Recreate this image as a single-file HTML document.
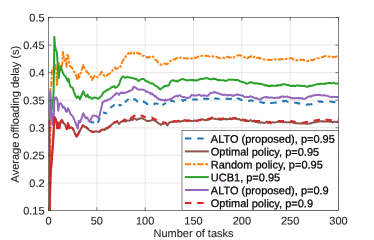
<!DOCTYPE html>
<html><head><meta charset="utf-8"><style>
html,body{margin:0;padding:0;background:#fff;}
body{width:374px;height:240px;overflow:hidden;}
svg{display:block;}
</style></head><body>
<svg width="374" height="240" viewBox="0 0 374 240"><defs><clipPath id="cp"><rect x="48.5" y="17.5" width="290" height="193"/></clipPath></defs><rect width="374" height="240" fill="#fff"/><path d="M96.83 17.5V210.5M145.17 17.5V210.5M193.50 17.5V210.5M241.83 17.5V210.5M290.17 17.5V210.5M48.5 182.93H338.5M48.5 155.36H338.5M48.5 127.79H338.5M48.5 100.21H338.5M48.5 72.64H338.5M48.5 45.07H338.5" stroke="#d6d6d6" stroke-width="0.6" fill="none"/><g clip-path="url(#cp)" fill="none" stroke-width="2.0" stroke-linejoin="round"><path d="M90.40 121.60 L92.00 122.50 L94.10 122.30M97.90 122.90 L99.75 117.90M102.90 112.46 L103.60 112.53 L104.57 112.89 L105.53 112.86 L106.50 113.51 L106.60 113.27M110.30 107.72 L110.37 107.64 L111.33 107.08 L112.30 106.45 L113.27 105.73 L114.23 104.97 L114.70 105.10M118.40 104.65 L119.07 105.00 L120.03 105.43 L121.00 104.93 L121.40 104.44M125.00 102.49 L125.83 101.47 L126.80 100.59 L127.77 99.73 L128.70 99.02M133.20 99.55 L133.57 99.51 L134.53 99.09 L135.50 99.92 L136.47 100.13 L137.43 101.59 L138.00 101.30M142.90 101.25 L143.23 101.44 L144.20 102.10 L145.17 102.50 L146.13 102.97 L147.10 104.04 L148.07 104.34 L148.20 104.33M153.60 104.63 L153.87 104.53 L154.83 103.40 L155.80 103.51 L156.77 103.59 L157.73 103.90 L158.40 104.00M162.30 105.01 L162.57 104.95 L163.53 104.19 L164.50 103.88 L165.47 103.19 L166.00 102.78M169.80 100.55 L170.30 100.44 L171.27 100.77 L172.23 101.11 L173.20 101.02 L174.17 101.63 L174.60 101.25M181.50 100.35 L181.90 100.13 L182.87 100.89 L183.83 100.11 L184.80 100.03 L185.77 100.21 L186.30 100.28M192.20 99.59 L192.53 99.56 L193.50 99.46 L194.47 99.32 L195.43 99.48 L196.40 99.36 L197.37 99.72 L197.70 99.74M203.10 98.85 L203.17 98.84 L204.13 98.75 L205.10 98.64 L206.07 98.58 L207.03 98.97 L208.00 98.77 L208.97 98.70 L209.00 98.73M214.30 98.27 L214.77 98.51 L215.73 98.31 L216.70 98.43 L217.67 98.75 L218.63 98.84 L219.60 98.75 L219.70 98.74M225.60 98.73 L226.37 98.71 L227.33 98.86 L228.30 98.75 L229.27 99.16 L230.23 98.75 L231.20 98.76 L232.00 98.92M237.00 98.01 L237.97 98.68 L238.93 98.60 L239.90 99.25 L240.87 99.74 L241.83 100.23 L242.30 100.54M248.20 101.14 L248.60 100.93 L249.57 100.95 L250.53 100.20 L251.50 100.36 L252.47 100.68 L253.43 101.31 L253.50 101.36M259.40 101.88 L260.20 102.01 L261.17 102.35 L262.13 102.39 L263.10 102.97 L264.07 102.79 L264.80 103.04M270.30 102.71 L270.83 102.95 L271.80 102.88 L272.77 102.80 L273.73 102.66 L274.70 102.66 L275.67 102.42 L276.63 102.54 L276.70 102.50M282.00 101.33 L282.43 101.25 L283.40 101.05 L284.37 101.37 L285.33 100.86 L286.30 101.08 L287.27 101.63 L288.23 101.89 L288.50 101.90M294.30 102.54 L295.00 102.68 L295.97 102.74 L296.93 102.64 L297.90 103.47 L298.87 103.28 L299.83 103.47 L300.20 103.49M305.90 104.62 L306.60 104.77 L307.57 104.53 L308.53 104.33 L309.50 104.48 L310.47 104.36 L311.43 104.27 L312.30 103.85M317.60 101.59 L318.20 101.36 L319.17 101.41 L320.13 101.98 L321.10 101.38 L322.07 101.95 L323.03 102.07 L323.50 102.13M329.40 101.21 L329.80 101.35 L330.77 101.63 L331.73 101.77 L332.70 101.86 L333.67 102.36 L334.63 101.97 L335.30 102.29" stroke="#1f77b4"/><polyline points="49.70,212.00 50.50,180.00 52.30,150.00 53.40,135.00 54.00,125.00 54.40,117.00 55.60,119.00 56.40,121.70 57.25,128.30 58.00,122.50 59.30,128.30 60.60,121.70 61.80,120.00 63.00,122.50 64.75,124.20 66.80,129.20 68.00,123.30 69.30,128.30 71.00,127.50 72.70,128.30 74.30,131.70 76.40,136.70 77.70,135.30 79.30,132.00 81.00,128.70 82.80,125.40 84.50,126.70 86.60,127.50 89.30,130.30 92.70,132.00 96.00,131.20 99.30,132.00 100.70,130.47 101.67,129.77 102.63,129.83 103.60,129.45 104.57,130.17 105.53,128.35 106.50,128.74 107.47,127.76 108.43,127.59 109.40,126.23 110.37,125.92 111.33,125.00 112.30,124.08 113.27,123.64 114.23,122.41 115.20,122.25 116.17,122.13 117.13,122.13 118.10,122.58 119.07,124.04 120.03,122.66 121.00,121.81 121.97,121.68 122.93,121.29 123.90,121.18 124.87,120.96 125.83,121.53 126.80,120.61 127.77,120.42 128.73,120.41 129.70,120.70 130.67,119.81 131.63,119.45 132.60,120.12 133.57,118.52 134.53,118.58 135.50,118.91 136.47,119.80 137.43,119.57 138.40,118.70 139.37,119.00 140.33,118.28 141.30,118.21 142.27,118.36 143.23,118.76 144.20,119.35 145.17,119.70 146.13,120.57 147.10,121.00 148.07,120.92 149.03,120.73 150.00,120.91 150.97,120.62 151.93,119.94 152.90,119.87 153.87,120.21 154.83,120.52 155.80,121.08 156.77,121.87 157.73,122.59 158.70,123.42 159.67,123.69 160.63,124.94 161.60,124.23 162.57,123.63 163.53,123.79 164.50,123.26 165.47,123.36 166.43,124.39 167.40,125.46 168.37,123.62 169.33,122.24 170.30,122.45 171.27,121.66 172.23,121.85 173.20,122.06 174.17,121.22 175.13,121.42 176.10,121.65 177.07,121.47 178.03,121.35 179.00,120.71 179.97,121.81 180.93,121.34 181.90,121.29 182.87,121.11 183.83,120.43 184.80,120.39 185.77,120.39 186.73,121.19 187.70,120.49 188.67,120.64 189.63,120.65 190.60,120.97 191.57,121.07 192.53,121.12 193.50,120.85 194.47,120.31 195.43,120.99 196.40,120.86 197.37,120.93 198.33,120.40 199.30,120.07 200.27,120.12 201.23,119.43 202.20,119.55 203.17,119.55 204.13,119.86 205.10,120.26 206.07,119.89 207.03,119.93 208.00,119.67 208.97,119.53 209.93,119.15 210.90,118.99 211.87,118.27 212.83,118.41 213.80,118.39 214.77,118.90 215.73,118.86 216.70,119.11 217.67,119.36 218.63,119.07 219.60,119.45 220.57,119.66 221.53,119.20 222.50,119.45 223.47,119.16 224.43,118.83 225.40,119.23 226.37,119.01 227.33,119.23 228.30,119.00 229.27,119.07 230.23,118.39 231.20,119.25 232.17,119.01 233.13,118.62 234.10,118.49 235.07,118.70 236.03,118.85 237.00,119.03 237.97,119.27 238.93,118.98 239.90,119.42 240.87,120.24 241.83,120.26 242.80,120.14 243.77,120.57 244.73,120.71 245.70,120.92 246.67,121.29 247.63,120.85 248.60,121.02 249.57,120.69 250.53,120.18 251.50,120.55 252.47,121.45 253.43,121.00 254.40,121.17 255.37,121.92 256.33,121.88 257.30,122.04 258.27,122.55 259.23,122.01 260.20,122.67 261.17,122.52 262.13,122.46 263.10,122.56 264.07,122.95 265.03,122.63 266.00,122.22 266.97,122.36 267.93,122.94 268.90,122.83 269.87,122.36 270.83,123.13 271.80,122.52 272.77,122.24 273.73,122.32 274.70,122.41 275.67,122.41 276.63,122.14 277.60,121.72 278.57,121.74 279.53,121.59 280.50,121.94 281.47,121.89 282.43,122.18 283.40,121.96 284.37,122.23 285.33,122.26 286.30,122.30 287.27,122.31 288.23,122.29 289.20,122.20 290.17,122.53 291.13,122.37 292.10,122.04 293.07,122.63 294.03,122.78 295.00,123.22 295.97,123.07 296.93,123.26 297.90,123.25 298.87,123.43 299.83,123.50 300.80,123.44 301.77,123.35 302.73,123.52 303.70,123.51 304.67,123.63 305.63,123.47 306.60,123.80 307.57,123.64 308.53,123.59 309.50,123.51 310.47,123.63 311.43,123.10 312.40,122.60 313.37,122.36 314.33,122.41 315.30,122.29 316.27,122.10 317.23,121.69 318.20,121.65 319.17,121.43 320.13,121.35 321.10,121.32 322.07,121.54 323.03,121.23 324.00,121.40 324.97,121.67 325.93,121.32 326.90,121.55 327.87,121.18 328.83,121.48 329.80,121.75 330.77,121.57 331.73,121.75 332.70,122.41 333.67,121.76 334.63,121.76 335.60,121.78 336.57,121.91 337.53,121.89 338.50,122.10" stroke="#8c564b"/><polyline points="49.60,212.00 50.20,150.00 50.40,88.00 51.30,86.00 52.10,69.00 53.30,68.00 54.30,66.00 55.50,65.00 56.50,73.00 57.00,86.00 58.30,62.00 59.30,67.50 60.30,70.00 61.20,68.00 62.30,64.00 63.00,52.00 63.80,57.00 64.60,61.00 65.50,59.00 66.50,67.00 67.30,55.00 68.00,55.50 68.60,59.00 69.30,64.00 70.20,66.70 71.80,67.50 72.70,68.75 73.50,70.50 74.30,72.40 75.40,73.90 76.80,77.20 77.50,80.00 78.30,74.20 79.30,77.50 81.70,70.00 83.30,65.00 85.00,69.20 86.70,71.70 88.30,73.30 91.00,76.70 92.00,80.00 92.70,78.30 95.00,75.80 97.70,77.50 100.70,73.57 101.67,71.84 102.63,73.64 103.60,74.97 104.57,75.91 105.53,75.12 106.50,75.63 107.47,74.88 108.43,74.14 109.40,73.60 110.37,73.07 111.33,72.50 112.30,70.60 113.27,69.34 114.23,68.71 115.20,67.47 116.17,68.93 117.13,68.36 118.10,68.23 119.07,68.49 120.03,66.94 121.00,65.05 121.97,62.26 122.93,60.90 123.90,59.00 124.87,58.66 125.83,55.87 126.80,54.63 127.77,53.74 128.73,53.37 129.70,53.22 130.67,53.46 131.63,52.46 132.60,53.91 133.57,53.78 134.53,52.85 135.50,52.62 136.47,52.27 137.43,53.28 138.40,53.02 139.37,54.09 140.33,53.83 141.30,54.16 142.27,55.67 143.23,55.66 144.20,55.95 145.17,56.56 146.13,56.73 147.10,57.51 148.07,57.78 149.03,56.64 150.00,56.99 150.97,56.12 151.93,56.40 152.90,56.63 153.87,58.59 154.83,59.49 155.80,60.01 156.77,60.58 157.73,61.87 158.70,63.05 159.67,63.75 160.63,64.49 161.60,64.90 162.57,64.22 163.53,63.73 164.50,63.68 165.47,63.65 166.43,64.24 167.40,63.68 168.37,63.24 169.33,61.75 170.30,60.83 171.27,60.49 172.23,59.74 173.20,59.42 174.17,59.41 175.13,59.41 176.10,58.19 177.07,58.27 178.03,57.76 179.00,57.47 179.97,57.87 180.93,57.46 181.90,58.13 182.87,57.99 183.83,58.16 184.80,58.17 185.77,58.18 186.73,58.13 187.70,58.38 188.67,58.81 189.63,58.54 190.60,58.49 191.57,58.41 192.53,58.15 193.50,58.43 194.47,58.55 195.43,57.40 196.40,57.58 197.37,57.13 198.33,56.45 199.30,56.08 200.27,56.01 201.23,56.07 202.20,55.69 203.17,55.74 204.13,55.56 205.10,55.82 206.07,55.81 207.03,55.98 208.00,55.94 208.97,56.37 209.93,56.64 210.90,56.25 211.87,56.35 212.83,56.44 213.80,56.50 214.77,56.92 215.73,56.95 216.70,56.86 217.67,57.19 218.63,57.90 219.60,58.14 220.57,58.25 221.53,58.05 222.50,58.04 223.47,57.57 224.43,57.99 225.40,57.16 226.37,57.33 227.33,56.82 228.30,57.08 229.27,57.42 230.23,57.44 231.20,57.57 232.17,58.13 233.13,57.82 234.10,57.26 235.07,56.59 236.03,56.02 237.00,55.73 237.97,55.35 238.93,55.09 239.90,55.39 240.87,55.49 241.83,55.68 242.80,56.18 243.77,57.08 244.73,57.40 245.70,58.07 246.67,58.74 247.63,58.08 248.60,57.21 249.57,56.92 250.53,56.72 251.50,55.79 252.47,56.27 253.43,57.29 254.40,56.70 255.37,57.37 256.33,57.82 257.30,57.72 258.27,58.16 259.23,57.74 260.20,58.24 261.17,58.97 262.13,59.35 263.10,59.37 264.07,59.59 265.03,59.37 266.00,59.25 266.97,59.39 267.93,59.76 268.90,59.90 269.87,59.84 270.83,60.11 271.80,60.08 272.77,60.02 273.73,60.05 274.70,59.43 275.67,59.41 276.63,59.10 277.60,59.48 278.57,59.31 279.53,59.65 280.50,59.53 281.47,59.12 282.43,58.97 283.40,59.30 284.37,59.14 285.33,58.99 286.30,58.54 287.27,58.63 288.23,58.34 289.20,58.38 290.17,58.37 291.13,58.11 292.10,58.28 293.07,59.23 294.03,59.61 295.00,59.80 295.97,60.28 296.93,60.23 297.90,60.49 298.87,60.03 299.83,59.96 300.80,59.83 301.77,59.98 302.73,59.64 303.70,60.22 304.67,60.23 305.63,60.23 306.60,60.79 307.57,60.87 308.53,61.06 309.50,60.95 310.47,60.63 311.43,59.91 312.40,60.26 313.37,59.84 314.33,59.32 315.30,58.87 316.27,58.79 317.23,58.16 318.20,58.27 319.17,57.90 320.13,57.40 321.10,57.40 322.07,57.11 323.03,57.11 324.00,56.69 324.97,56.01 325.93,56.05 326.90,56.55 327.87,56.64 328.83,56.59 329.80,56.57 330.77,56.91 331.73,56.77 332.70,56.86 333.67,57.17 334.63,57.05 335.60,56.68 336.57,56.43 337.53,56.44 338.50,56.65" stroke="#ff7f0e" stroke-dasharray="5.8,1.5,2.6,1.5"/><polyline points="49.50,116.00 50.40,112.00 51.40,110.00 52.30,107.00 53.50,95.00 54.00,70.00 54.30,36.70 55.00,46.00 55.80,50.00 56.70,51.30 57.30,58.00 58.10,70.00 58.60,78.00 59.75,70.00 60.90,66.20 61.90,69.80 63.00,73.20 64.30,75.50 65.50,76.50 66.80,79.00 67.70,81.30 68.50,78.80 69.30,82.20 70.20,86.00 71.00,87.25 72.70,87.70 73.90,91.80 75.20,95.20 76.70,97.90 78.30,96.25 80.00,99.20 81.70,95.00 83.30,91.25 85.00,95.40 86.25,96.70 87.50,94.60 88.75,97.50 90.00,97.10 91.70,98.75 93.30,97.90 95.00,97.50 96.70,97.90 98.30,98.75 100.70,96.55 101.67,95.65 102.63,93.89 103.60,92.37 104.57,91.55 105.53,91.41 106.50,90.39 107.47,89.61 108.43,89.64 109.40,88.98 110.37,88.48 111.33,87.27 112.30,87.12 113.27,86.63 114.23,85.98 115.20,87.70 116.17,87.48 117.13,86.89 118.10,85.50 119.07,84.67 120.03,81.56 121.00,78.80 121.97,77.35 122.93,76.31 123.90,77.06 124.87,77.83 125.83,77.53 126.80,77.14 127.77,76.71 128.73,77.36 129.70,77.38 130.67,77.73 131.63,77.80 132.60,78.31 133.57,78.18 134.53,78.56 135.50,79.05 136.47,78.85 137.43,80.17 138.40,80.86 139.37,80.72 140.33,79.46 141.30,79.30 142.27,78.90 143.23,79.10 144.20,79.22 145.17,80.54 146.13,80.79 147.10,81.78 148.07,81.61 149.03,82.23 150.00,83.10 150.97,83.55 151.93,83.26 152.90,83.75 153.87,84.62 154.83,85.41 155.80,85.84 156.77,86.46 157.73,86.78 158.70,88.02 159.67,88.96 160.63,89.32 161.60,88.26 162.57,87.54 163.53,87.07 164.50,85.94 165.47,86.04 166.43,85.53 167.40,85.76 168.37,85.73 169.33,84.18 170.30,82.10 171.27,80.85 172.23,80.43 173.20,80.35 174.17,80.57 175.13,81.13 176.10,80.63 177.07,81.65 178.03,81.16 179.00,80.26 179.97,80.27 180.93,79.68 181.90,78.86 182.87,79.17 183.83,79.28 184.80,79.71 185.77,80.00 186.73,80.45 187.70,80.24 188.67,80.29 189.63,80.31 190.60,79.67 191.57,80.35 192.53,79.86 193.50,80.47 194.47,80.32 195.43,80.49 196.40,80.18 197.37,80.38 198.33,79.85 199.30,79.29 200.27,79.14 201.23,78.78 202.20,78.91 203.17,78.64 204.13,78.82 205.10,78.20 206.07,78.33 207.03,78.11 208.00,78.40 208.97,79.01 209.93,79.13 210.90,79.25 211.87,79.25 212.83,79.10 213.80,78.40 214.77,79.15 215.73,78.90 216.70,79.59 217.67,80.27 218.63,79.95 219.60,80.09 220.57,80.34 221.53,80.30 222.50,80.31 223.47,80.15 224.43,80.72 225.40,80.82 226.37,80.70 227.33,80.47 228.30,79.93 229.27,79.45 230.23,79.54 231.20,79.84 232.17,79.86 233.13,79.70 234.10,79.74 235.07,80.00 236.03,79.98 237.00,80.02 237.97,80.09 238.93,80.62 239.90,81.32 240.87,81.64 241.83,81.64 242.80,82.25 243.77,82.34 244.73,82.75 245.70,83.39 246.67,83.69 247.63,83.43 248.60,83.00 249.57,82.41 250.53,82.45 251.50,82.33 252.47,82.50 253.43,83.13 254.40,83.72 255.37,83.33 256.33,83.11 257.30,83.53 258.27,83.90 259.23,83.48 260.20,84.03 261.17,83.86 262.13,84.42 263.10,84.57 264.07,84.79 265.03,85.48 266.00,85.24 266.97,85.32 267.93,86.01 268.90,85.57 269.87,86.27 270.83,85.79 271.80,85.58 272.77,85.80 273.73,85.83 274.70,85.84 275.67,85.76 276.63,85.91 277.60,85.04 278.57,85.27 279.53,85.20 280.50,85.50 281.47,84.54 282.43,84.66 283.40,84.26 284.37,84.14 285.33,84.49 286.30,84.67 287.27,85.13 288.23,84.93 289.20,85.35 290.17,85.77 291.13,85.95 292.10,85.73 293.07,86.04 294.03,85.61 295.00,86.13 295.97,85.64 296.93,85.44 297.90,85.37 298.87,85.61 299.83,85.94 300.80,85.69 301.77,85.78 302.73,86.09 303.70,85.90 304.67,85.85 305.63,86.51 306.60,86.41 307.57,86.87 308.53,86.34 309.50,85.70 310.47,86.09 311.43,85.79 312.40,85.77 313.37,85.24 314.33,84.88 315.30,84.73 316.27,84.39 317.23,84.33 318.20,83.89 319.17,84.13 320.13,83.71 321.10,83.64 322.07,83.84 323.03,83.89 324.00,83.50 324.97,84.05 325.93,83.32 326.90,83.40 327.87,83.22 328.83,83.05 329.80,83.03 330.77,83.36 331.73,83.22 332.70,83.21 333.67,82.84 334.63,83.14 335.60,83.63 336.57,83.54 337.53,83.41 338.50,83.57" stroke="#2ca02c"/><polyline points="49.50,124.00 50.30,91.00 52.50,125.00 53.75,116.00 54.50,97.50 55.50,99.00 56.25,97.30 57.50,100.70 58.30,110.70 59.20,104.00 60.80,103.20 61.70,104.80 62.90,107.75 63.75,106.50 64.60,107.75 65.80,110.70 66.70,112.00 67.90,108.20 69.20,110.70 70.40,114.00 72.25,115.70 73.50,117.75 75.30,122.50 77.00,126.70 77.80,128.75 78.70,120.80 79.90,122.50 81.60,118.30 83.25,113.30 84.50,115.80 85.75,118.30 87.40,117.50 88.70,120.80 89.90,121.70 91.60,117.50 93.25,115.40 94.90,115.80 96.60,116.25 98.25,117.90 99.50,115.80 100.70,110.27 101.67,106.77 102.63,101.88 103.60,101.96 104.57,100.99 105.53,100.60 106.50,101.08 107.47,99.98 108.43,99.42 109.40,99.23 110.37,98.90 111.33,97.81 112.30,97.31 113.27,95.99 114.23,95.43 115.20,94.44 116.17,93.15 117.13,93.19 118.10,93.81 119.07,94.82 120.03,93.42 121.00,92.48 121.97,92.93 122.93,92.75 123.90,93.05 124.87,92.85 125.83,92.72 126.80,91.95 127.77,91.87 128.73,91.10 129.70,91.28 130.67,90.38 131.63,90.12 132.60,89.35 133.57,86.71 134.53,87.21 135.50,87.51 136.47,88.22 137.43,89.36 138.40,89.53 139.37,89.83 140.33,89.58 141.30,89.57 142.27,89.66 143.23,89.63 144.20,90.12 145.17,90.56 146.13,91.77 147.10,91.46 148.07,92.19 149.03,92.73 150.00,92.75 150.97,94.27 151.93,93.37 152.90,94.56 153.87,95.20 154.83,96.54 155.80,96.21 156.77,97.81 157.73,98.03 158.70,98.93 159.67,99.23 160.63,99.90 161.60,99.69 162.57,100.06 163.53,100.26 164.50,100.74 165.47,99.61 166.43,100.52 167.40,100.19 168.37,99.63 169.33,99.51 170.30,98.90 171.27,99.05 172.23,98.21 173.20,97.52 174.17,96.93 175.13,96.35 176.10,96.14 177.07,95.81 178.03,96.44 179.00,95.38 179.97,95.21 180.93,96.38 181.90,96.63 182.87,97.01 183.83,97.09 184.80,97.34 185.77,97.65 186.73,97.96 187.70,97.74 188.67,97.90 189.63,97.56 190.60,96.23 191.57,94.89 192.53,95.46 193.50,95.39 194.47,95.38 195.43,95.48 196.40,95.62 197.37,95.11 198.33,94.83 199.30,94.83 200.27,95.26 201.23,95.89 202.20,95.66 203.17,95.27 204.13,95.64 205.10,95.35 206.07,95.66 207.03,95.94 208.00,95.56 208.97,94.60 209.93,93.66 210.90,92.80 211.87,92.86 212.83,92.66 213.80,92.07 214.77,92.27 215.73,92.55 216.70,92.72 217.67,93.05 218.63,93.50 219.60,93.75 220.57,94.17 221.53,94.16 222.50,94.87 223.47,95.03 224.43,94.83 225.40,94.65 226.37,95.27 227.33,95.50 228.30,94.99 229.27,94.96 230.23,94.93 231.20,95.44 232.17,95.32 233.13,95.98 234.10,95.38 235.07,95.23 236.03,94.73 237.00,94.75 237.97,94.56 238.93,94.82 239.90,95.03 240.87,95.35 241.83,95.43 242.80,95.76 243.77,96.55 244.73,96.97 245.70,96.80 246.67,96.83 247.63,96.88 248.60,96.95 249.57,96.68 250.53,96.15 251.50,96.72 252.47,96.99 253.43,97.37 254.40,98.03 255.37,98.17 256.33,98.05 257.30,98.65 258.27,99.29 259.23,99.55 260.20,99.27 261.17,99.06 262.13,98.02 263.10,97.82 264.07,97.25 265.03,97.24 266.00,96.98 266.97,97.49 267.93,97.31 268.90,97.62 269.87,97.63 270.83,97.55 271.80,97.48 272.77,97.66 273.73,98.11 274.70,97.73 275.67,97.88 276.63,97.74 277.60,97.43 278.57,97.87 279.53,97.25 280.50,97.56 281.47,96.56 282.43,96.42 283.40,97.02 284.37,96.86 285.33,96.69 286.30,96.83 287.27,96.53 288.23,96.94 289.20,97.15 290.17,97.61 291.13,98.14 292.10,98.08 293.07,98.23 294.03,98.10 295.00,98.18 295.97,98.21 296.93,98.04 297.90,98.27 298.87,97.90 299.83,98.56 300.80,98.05 301.77,98.57 302.73,98.31 303.70,98.92 304.67,98.72 305.63,98.30 306.60,97.87 307.57,97.09 308.53,96.67 309.50,96.27 310.47,96.73 311.43,96.11 312.40,95.76 313.37,95.50 314.33,95.55 315.30,94.65 316.27,95.05 317.23,94.92 318.20,95.11 319.17,94.63 320.13,94.92 321.10,95.17 322.07,95.38 323.03,95.48 324.00,95.07 324.97,95.39 325.93,95.65 326.90,95.69 327.87,95.97 328.83,96.63 329.80,96.73 330.77,96.86 331.73,97.24 332.70,96.80 333.67,97.11 334.63,97.00 335.60,96.99 336.57,97.10 337.53,97.04 338.50,97.05" stroke="#9467bd"/><path d="M49.50 120.00 L49.70 212.00 L50.30 176.00 L52.00 158.00 L53.30 140.00 L53.90 125.00 L54.40 117.00 L55.60 119.00 L56.40 121.70 L57.25 128.30 L57.30 127.91M58.20 123.39 L59.30 128.30 L59.80 125.76M60.20 123.73 L60.60 121.70 L61.80 120.00 L63.00 122.50 L63.70 123.18M66.00 127.25 L66.80 129.20 L68.00 123.30 L69.30 128.30 L69.50 128.21M70.70 127.64 L71.00 127.50 L72.70 128.30 L73.60 130.21M75.30 133.84 L76.40 136.20 L77.70 135.00 L79.30 131.50 L80.00 130.14M81.75 127.03 L82.80 125.40 L84.00 126.32M85.80 127.20 L86.60 127.50 L88.20 129.16M91.00 131.15 L92.70 132.00 L94.00 131.68M99.40 131.89 L100.70 130.47 L101.67 129.77 L102.63 129.83 L102.70 129.79M106.70 128.43 L107.47 127.70 L108.43 127.66 L109.40 126.45 L110.37 126.32 L110.70 125.96M113.40 123.43 L114.23 122.46 L115.20 122.24 L116.17 122.06 L117.13 121.28 L118.10 120.55M122.10 121.33 L122.93 120.66 L123.90 120.05 L124.87 119.41 L125.83 119.56 L126.10 119.31M130.10 118.89 L130.67 118.27 L131.63 117.53 L132.60 117.92 L133.57 116.05 L134.53 115.79 L135.50 115.51M140.60 115.81 L141.30 115.61 L142.27 115.83 L143.23 116.25 L144.20 116.77 L145.17 117.05 L145.60 117.43M151.50 117.64 L151.93 117.50 L152.90 118.11 L153.87 118.99 L154.83 119.11 L155.80 119.49 L156.70 120.04M162.20 121.75 L162.57 121.74 L163.53 122.49 L164.50 122.53 L165.47 122.68 L166.43 123.35 L167.20 123.60M172.40 121.68 L173.20 121.87 L174.17 121.04 L175.13 121.26 L176.10 121.50 L177.07 121.27 L178.03 120.98 L178.80 120.36M184.20 120.10 L184.80 120.15 L185.77 120.24 L186.73 121.08 L187.70 120.41 L188.67 120.59 L189.63 120.62 L190.00 120.71M196.00 120.73 L196.40 120.70 L197.37 120.79 L198.33 120.31 L199.30 120.04 L200.27 120.14 L201.23 119.51 L201.80 119.50M207.20 119.42 L208.00 119.05 L208.97 118.81 L209.93 118.38 L210.90 118.17 L211.87 117.41 L212.60 117.51M218.40 118.52 L218.63 118.43 L219.60 118.75 L220.57 118.96 L221.53 118.50 L222.50 118.75 L223.47 118.46 L224.30 118.18M230.20 118.22 L230.23 118.20 L231.20 119.04 L232.17 118.73 L233.13 118.21 L234.10 117.94 L235.07 118.02 L236.03 118.03 L236.60 118.04M242.10 119.53 L242.80 119.39 L243.77 119.72 L244.73 119.77 L245.70 120.04 L246.67 120.72 L247.63 120.58 L248.00 120.72M253.90 120.52 L254.40 120.51 L255.37 121.10 L256.33 120.93 L257.30 120.99 L258.27 121.40 L259.23 120.76 L259.80 121.09M266.20 121.42 L266.97 121.58 L267.93 122.20 L268.90 122.13 L269.87 121.70 L270.83 122.50 L271.60 122.01M278.10 121.11 L278.57 121.08 L279.53 120.88 L280.50 121.18 L281.47 121.07 L282.43 121.25 L283.40 120.93 L284.00 121.03M289.90 121.23 L290.17 121.34 L291.13 121.31 L292.10 121.07 L293.07 121.52 L294.03 121.54 L295.00 121.86 L295.80 121.63M302.20 122.56 L302.73 122.66 L303.70 122.46 L304.67 122.39 L305.63 122.04 L306.60 122.18 L307.57 121.83 L307.90 121.75M313.60 120.36 L314.33 120.45 L315.30 120.46 L316.27 120.35 L317.23 119.98 L318.20 119.98 L319.17 119.80 L320.00 119.75M325.40 119.78 L325.93 119.65 L326.90 120.03 L327.87 119.73 L328.83 119.99 L329.80 120.23 L330.77 120.01 L331.73 120.15 L331.80 120.19M337.70 119.84 L338.50 120.00" stroke="#d62728"/></g><path d="M48.50 210.5v-3M48.50 17.5v3M96.83 210.5v-3M96.83 17.5v3M145.17 210.5v-3M145.17 17.5v3M193.50 210.5v-3M193.50 17.5v3M241.83 210.5v-3M241.83 17.5v3M290.17 210.5v-3M290.17 17.5v3M338.50 210.5v-3M338.50 17.5v3M48.5 210.50h3M338.5 210.50h-3M48.5 182.93h3M338.5 182.93h-3M48.5 155.36h3M338.5 155.36h-3M48.5 127.79h3M338.5 127.79h-3M48.5 100.21h3M338.5 100.21h-3M48.5 72.64h3M338.5 72.64h-3M48.5 45.07h3M338.5 45.07h-3M48.5 17.50h3M338.5 17.50h-3" stroke="#2e2e2e" stroke-width="0.6" fill="none"/><rect x="48.5" y="17.5" width="290.0" height="193.0" fill="none" stroke="#2e2e2e" stroke-width="0.6"/><g font-family="Liberation Sans, Arial, sans-serif" font-size="11" fill="#262626" stroke="#262626" stroke-width="0.1"><text x="48.50" y="224.6" text-anchor="middle" transform="rotate(0.05 48.50 224.60)">0</text><text x="96.83" y="224.6" text-anchor="middle" transform="rotate(0.05 96.83 224.60)">50</text><text x="145.17" y="224.6" text-anchor="middle" transform="rotate(0.05 145.17 224.60)">100</text><text x="193.50" y="224.6" text-anchor="middle" transform="rotate(0.05 193.50 224.60)">150</text><text x="241.83" y="224.6" text-anchor="middle" transform="rotate(0.05 241.83 224.60)">200</text><text x="290.17" y="224.6" text-anchor="middle" transform="rotate(0.05 290.17 224.60)">250</text><text x="338.50" y="224.6" text-anchor="middle" transform="rotate(0.05 338.50 224.60)">300</text><text x="44.6" y="214.50" text-anchor="end" transform="rotate(0.05 44.60 214.50)">0.15</text><text x="44.6" y="186.93" text-anchor="end" transform="rotate(0.05 44.60 186.93)">0.2</text><text x="44.6" y="159.36" text-anchor="end" transform="rotate(0.05 44.60 159.36)">0.25</text><text x="44.6" y="131.79" text-anchor="end" transform="rotate(0.05 44.60 131.79)">0.3</text><text x="44.6" y="104.21" text-anchor="end" transform="rotate(0.05 44.60 104.21)">0.35</text><text x="44.6" y="76.64" text-anchor="end" transform="rotate(0.05 44.60 76.64)">0.4</text><text x="44.6" y="49.07" text-anchor="end" transform="rotate(0.05 44.60 49.07)">0.45</text><text x="44.6" y="21.50" text-anchor="end" transform="rotate(0.05 44.60 21.50)">0.5</text><text x="193.5" y="237.1" text-anchor="middle" transform="rotate(0.05 193.50 237.10)">Number of tasks</text><text transform="translate(18.8 114.2) rotate(-89.95)" text-anchor="middle">Average offloading delay (s)</text></g><rect x="182.0" y="130.5" width="156.5" height="80.0" fill="#fff" stroke="#2e2e2e" stroke-width="0.6"/><g fill="none" stroke-width="2.0"><path d="M184.9 138.5H208.8" stroke="#1f77b4" stroke-dasharray="6.5,5.8"/><path d="M184.9 151.4H208.8" stroke="#8c564b"/><path d="M184.9 164.3H208.8" stroke="#ff7f0e" stroke-dasharray="6.3,1.6,2.8,1.6"/><path d="M184.9 177.1H208.8" stroke="#2ca02c"/><path d="M184.9 190.0H208.8" stroke="#9467bd"/><path d="M184.9 202.9H208.8" stroke="#d62728" stroke-dasharray="6.5,5.8"/></g><g font-family="Liberation Sans, Arial, sans-serif" font-size="11" fill="#000" stroke="#000" stroke-width="0.25"><text x="210.8" y="142.70" transform="rotate(0.05 210.80 142.70)">ALTO (proposed), p=0.95</text><text x="210.8" y="155.60" transform="rotate(0.05 210.80 155.60)">Optimal policy, p=0.95</text><text x="210.8" y="168.50" transform="rotate(0.05 210.80 168.50)">Random policy, p=0.95</text><text x="210.8" y="181.30" transform="rotate(0.05 210.80 181.30)">UCB1, p=0.95</text><text x="210.8" y="194.20" transform="rotate(0.05 210.80 194.20)">ALTO (proposed), p=0.9</text><text x="210.8" y="207.10" transform="rotate(0.05 210.80 207.10)">Optimal policy, p=0.9</text></g></svg>
</body></html>
